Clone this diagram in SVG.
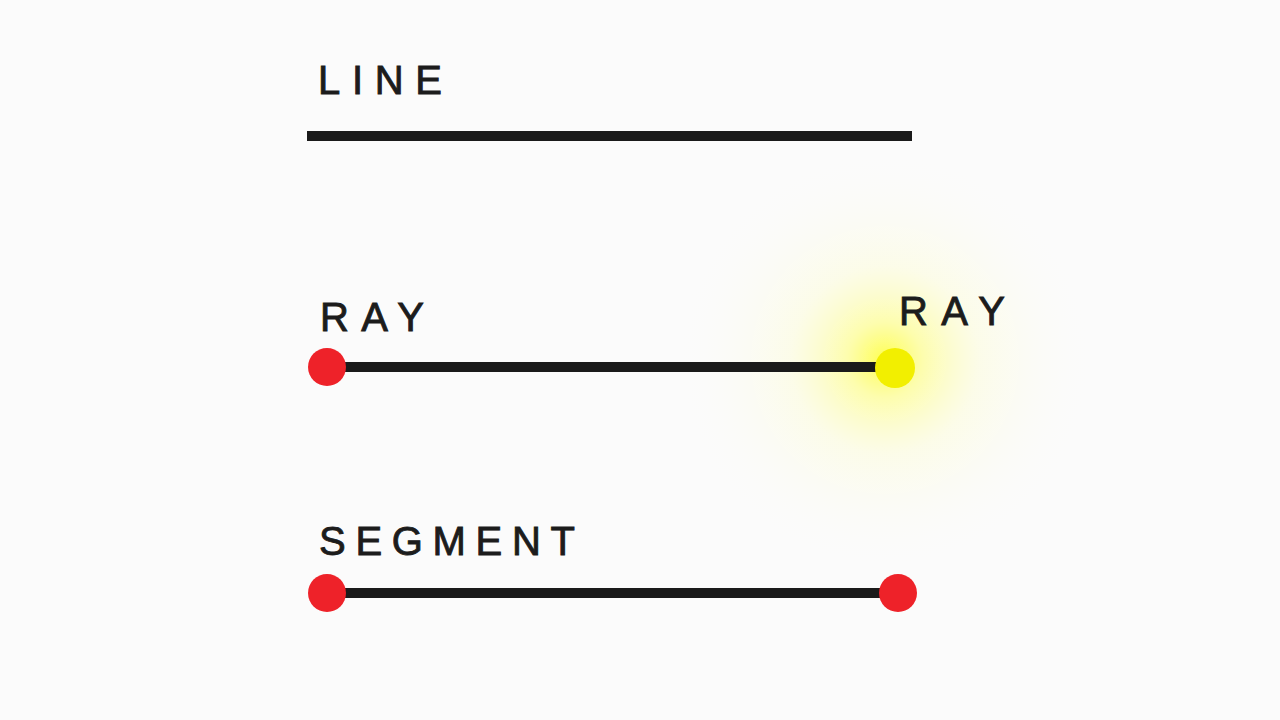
<svg xmlns="http://www.w3.org/2000/svg" width="1280" height="720" viewBox="0 0 1280 720">
  <defs>
    <radialGradient id="glow" cx="0.5" cy="0.5" r="0.5">
      <stop offset="0" stop-color="#ffff30" stop-opacity="0.85"/>
      <stop offset="0.18" stop-color="#ffff60" stop-opacity="0.5"/>
      <stop offset="0.45" stop-color="#ffffa0" stop-opacity="0.2"/>
      <stop offset="0.75" stop-color="#ffffd0" stop-opacity="0.08"/>
      <stop offset="1" stop-color="#ffffff" stop-opacity="0"/>
    </radialGradient>
    <style>
      .lbl { font-family: "Liberation Sans", Arial, sans-serif; font-size: 40px; fill: #1c1c1c; stroke: #1c1c1c; stroke-width: 0.9; }
      .ln { stroke: #1a1a1a; stroke-width: 10; }
      .red { fill: #ee2229; }
      .yel { fill: #f2ef00; }
    </style>
  </defs>
  <rect width="1280" height="720" fill="#fbfbfb"/>
  <circle cx="885" cy="360" r="210" fill="url(#glow)"/>

  <g id="connectors">
    <line class="ln" x1="307" y1="136" x2="912" y2="136"/>
    <line class="ln" x1="327" y1="367" x2="880" y2="367"/>
    <line class="ln" x1="327" y1="593" x2="898" y2="593"/>
  </g>

  <g id="line-node">
    <text class="lbl" x="318" y="94" textLength="124" lengthAdjust="spacing">LINE</text>
  </g>
  <g id="ray-node">
    <text class="lbl" x="320" y="331" textLength="104" lengthAdjust="spacing">RAY</text>
    <circle class="red" cx="327" cy="367" r="19"/>
    <circle class="yel" cx="895" cy="368" r="20"/>
    <text class="lbl" x="899" y="325" textLength="106" lengthAdjust="spacing">RAY</text>
  </g>
  <g id="segment-node">
    <text class="lbl" x="319" y="555" textLength="256" lengthAdjust="spacing">SEGMENT</text>
    <circle class="red" cx="327" cy="593" r="19"/>
    <circle class="red" cx="898" cy="593" r="19"/>
  </g>
</svg>
